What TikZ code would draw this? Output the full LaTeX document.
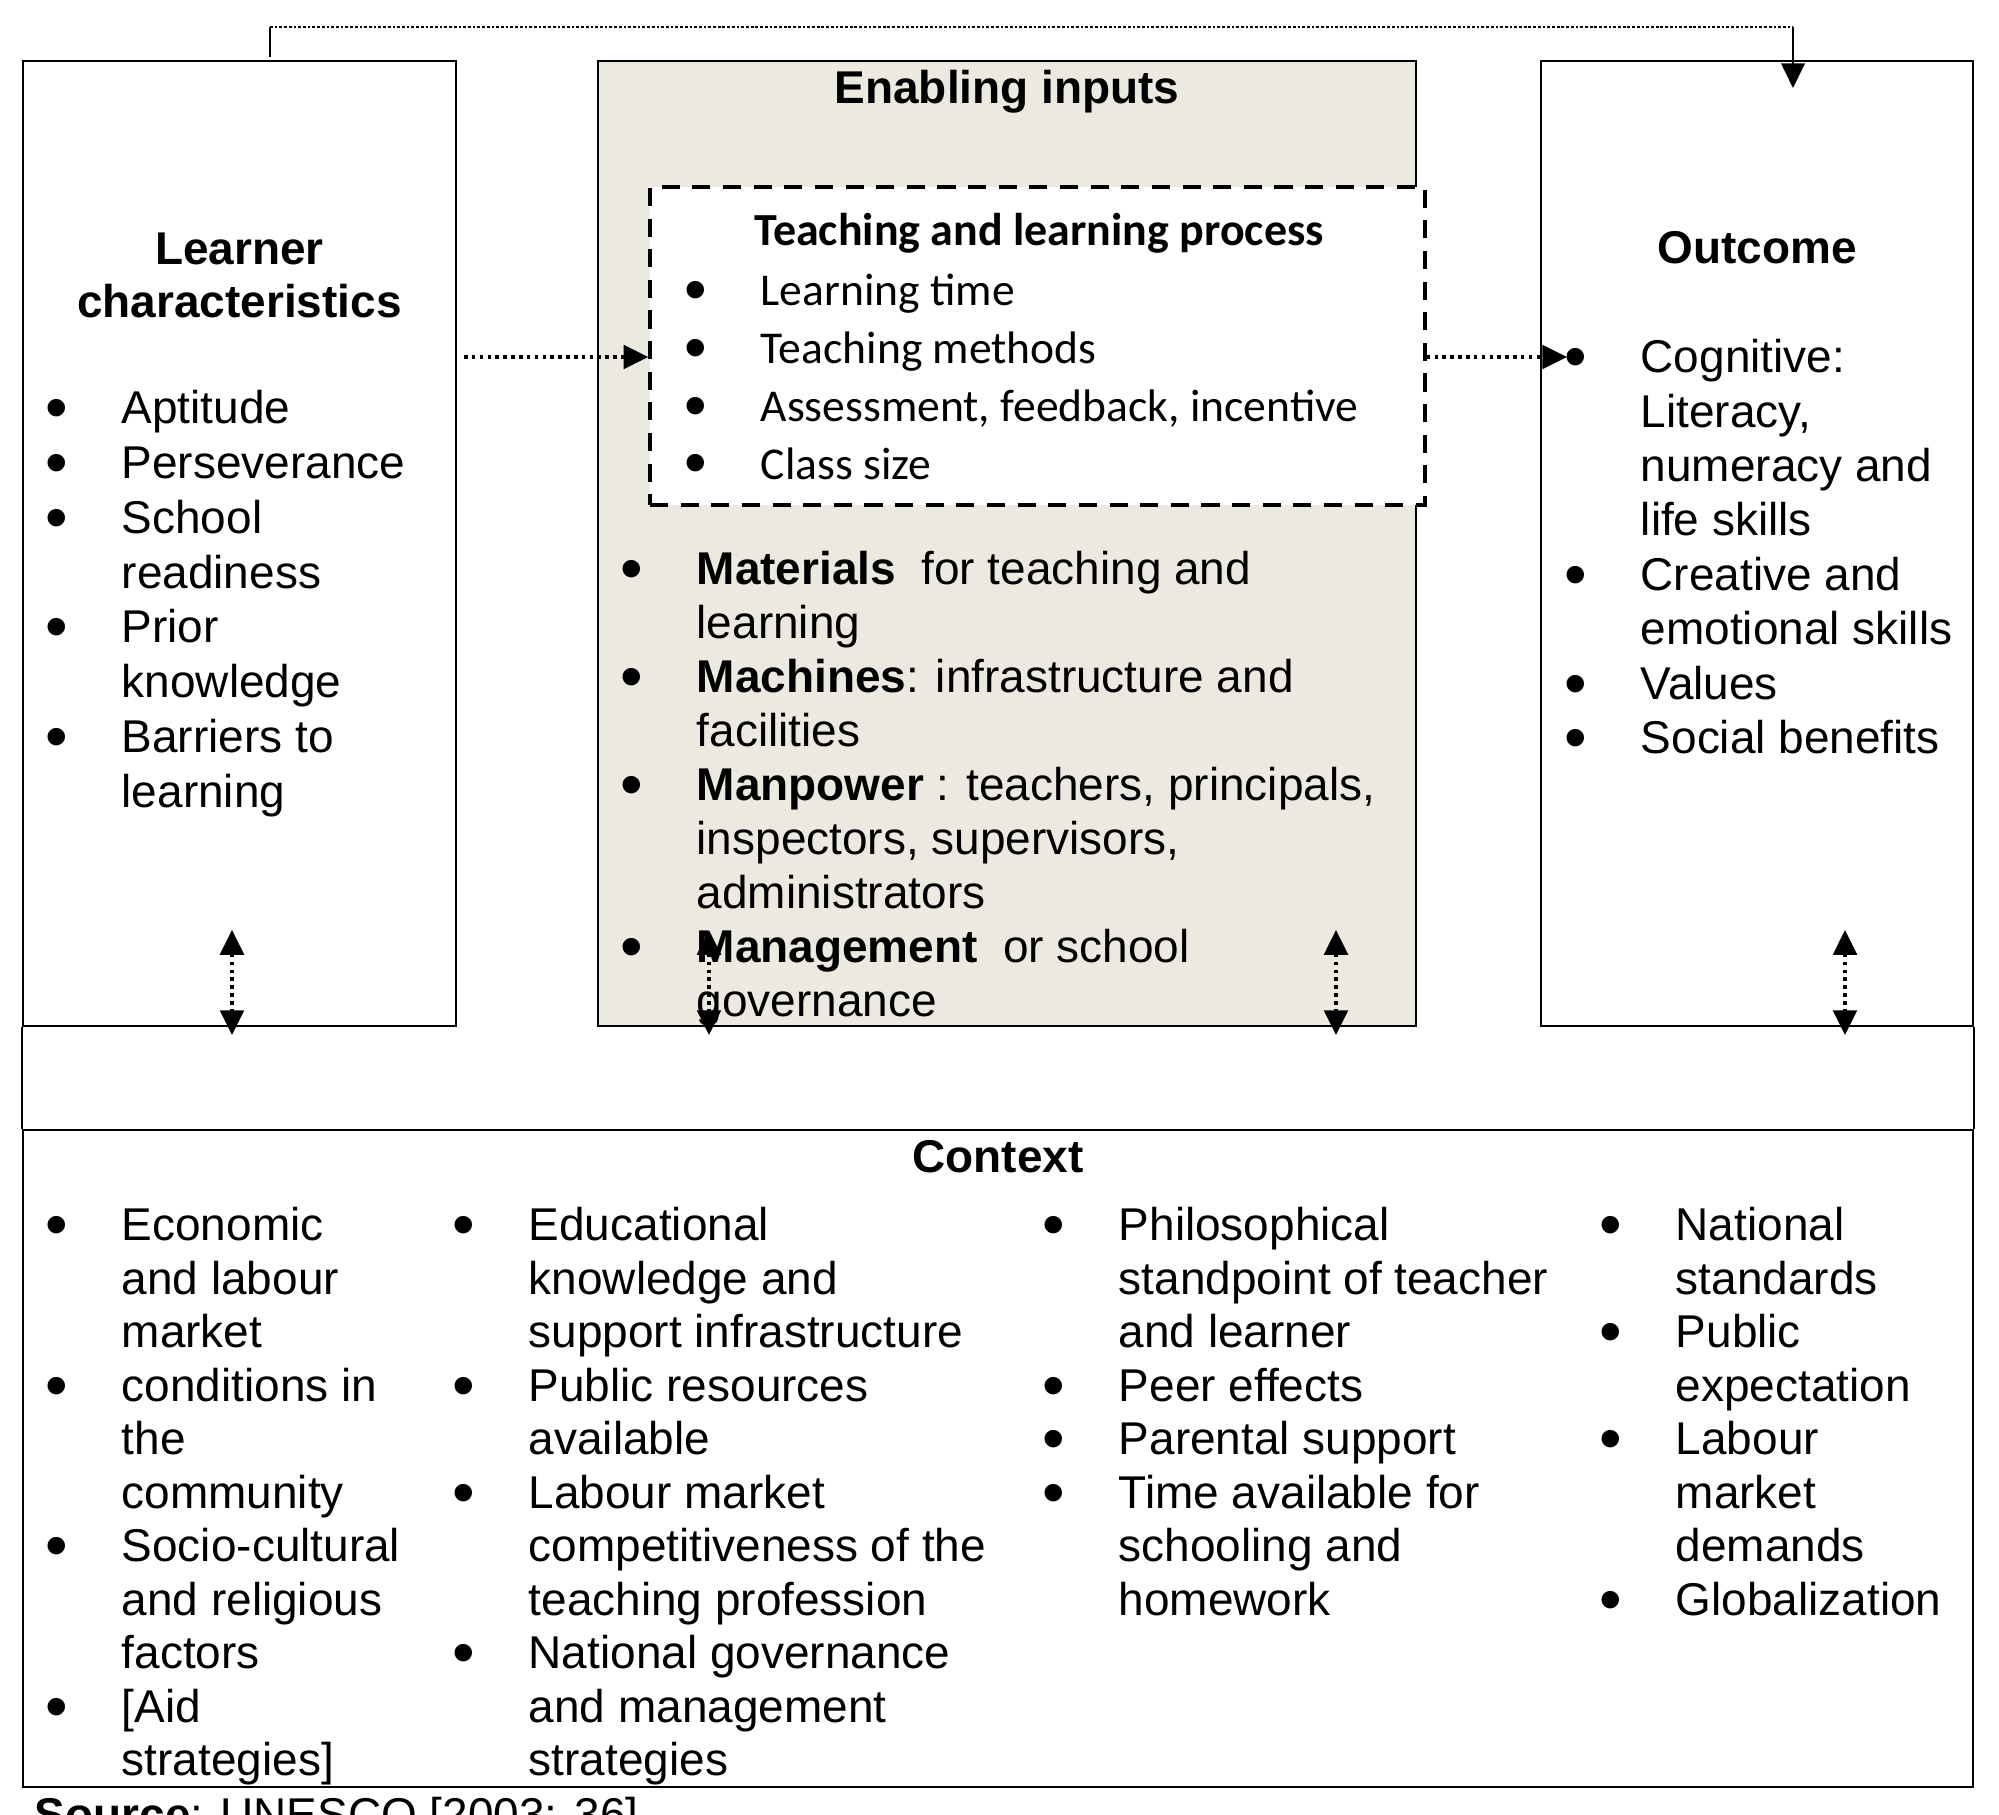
\documentclass[tikz,border=0pt]{standalone}
\usepackage{fontspec}
\setmainfont{Liberation Sans}
\newfontfamily\calfont{Carlito}
\newfontfamily\bulfont{Liberation Sans}
\usetikzlibrary{arrows.meta, calc, positioning}

\definecolor{inputfill}{RGB}{236,233,224}
\newlength{\pxu}
\setlength{\pxu}{0.2546pt}
\newcommand{\itm}{\llap{\makebox[33pt][c]{\raisebox{-1.5pt}{\bulfont\fontsize{16.4}{16}\selectfont\textbullet}}}}
\newcommand{\topln}{\rule{0pt}{10pt}}

\begin{document}
\begin{tikzpicture}[x=0.2546pt, y=-0.2546pt,
  box/.style={draw, line width=0.6pt, inner sep=0pt},
  title/.style={inner sep=0pt, font=\bfseries\fontsize{11.7}{13.3}\selectfont},
  list/.style={anchor=north west, inner sep=0pt, align=left, font=\fontsize{11.7}{13.95}\selectfont},
  ctxlist/.style={list, font=\fontsize{11.7}{13.62}\selectfont},
  tlplist/.style={list, font=\calfont\fontsize{11.6}{14.7}\selectfont},
  dotarrow/.style={line width=0.9pt, dash pattern=on 0.9pt off 1.1pt, -{Triangle[length=6.3pt,width=6pt]}},
  dblarrow/.style={line width=0.9pt, dash pattern=on 0.9pt off 1.1pt, {Triangle[length=6.3pt,width=6pt]}-{Triangle[length=6.3pt,width=6pt]}}]
  \useasboundingbox (0,0) rectangle (1999,1814);
  \fill[white] (0,0) rectangle (1999,1814);

  % Boxes
  \node[box, minimum width=433\pxu, minimum height=965\pxu] (learner) at (239.5,543.5) {};
  \node[box, fill=inputfill, minimum width=818\pxu, minimum height=965\pxu] (inputs) at (1007,543.5) {};
  \node[box, minimum width=432\pxu, minimum height=965\pxu] (outcome) at (1757,543.5) {};
  \node[draw, fill=white, line width=0.85pt, dash pattern=on 4.6pt off 3.2pt, inner sep=0pt,
    minimum width=775\pxu, minimum height=318\pxu] (tlp) at (1037.5,346) {};
  \node[box, minimum width=1950\pxu, minimum height=657\pxu] (context) at (998,1458.5) {};
  \draw[line width=0.6pt] (learner.south west) -- (context.north west);
  \draw[line width=0.6pt] (outcome.south east) -- (context.north east);

  % Learner characteristics
  \node[title, anchor=north, align=center] (lctitle) at (239.5,224.7) {\topln Learner\\characteristics};
  \node[list] (lcitems) at (121,383.7) {\topln\itm Aptitude\\\itm Perseverance\\\itm School\\readiness\\\itm Prior\\knowledge\\\itm Barriers to\\learning};

  % Enabling inputs
  \node[title, anchor=base] (intitle) at (1007,103) {Enabling inputs};
  \node[title, anchor=base, font=\calfont\bfseries\fontsize{11.7}{14.7}\selectfont] (tlptitle) at (1039,245) {Teaching and learning process};
  \node[tlplist] (tlpitems) at (760,265.7) {\topln\itm Learning time\\\itm Teaching methods\\\itm Assessment, feedback, incentive\\\itm Class size};
  \node[list, font=\fontsize{11.7}{13.75}\selectfont] (initems) at (696,544.7) {\topln\itm\textbf{Materials}\ \ for teaching and\\learning\\\itm\textbf{Machines}: infrastructure and\\facilities\\\itm\textbf{Manpower} : teachers, principals,\\inspectors, supervisors,\\administrators\\\itm\textbf{Management}\ \ or school\\governance};

  % Outcome
  \node[title, anchor=base] (outtitle) at (1757,263) {Outcome};
  \node[list, font=\fontsize{11.7}{13.85}\selectfont] (outitems) at (1640,332.7) {\topln\itm Cognitive:\\Literacy,\\numeracy and\\life skills\\\itm Creative and\\emotional skills\\\itm Values\\\itm Social benefits};

  % Context
  \node[title, anchor=base] (ctxtitle) at (998,1172) {Context};
  \node[ctxlist] (ctxa) at (121,1200.7) {\topln\itm Economic\\and labour\\market\\\itm conditions in\\the\\community\\\itm Socio-cultural\\and religious\\factors\\\itm [Aid\\strategies]};
  \node[ctxlist] (ctxb) at (528,1200.7) {\topln\itm Educational\\knowledge and\\support infrastructure\\\itm Public resources\\available\\\itm Labour market\\competitiveness of the\\teaching profession\\\itm National governance\\and management\\strategies};
  \node[ctxlist] (ctxc) at (1118,1200.7) {\topln\itm Philosophical\\standpoint of teacher\\and learner\\\itm Peer effects\\\itm Parental support\\\itm Time available for\\schooling and\\homework};
  \node[ctxlist] (ctxd) at (1675,1200.7) {\topln\itm National\\standards\\\itm Public\\expectation\\\itm Labour\\market\\demands\\\itm Globalization};

  % Source (cut by the page edge)
  \node[anchor=base west, inner sep=0pt, font=\fontsize{11.7}{13.95}\selectfont] (source) at (34,1830) {\textbf{Source}: UNESCO [2003: 36]};

  % Connectors
  \coordinate (lcStart) at (464,357);
  \coordinate (cogBullet) at (1567,357);
  \draw[dotarrow] (lcStart) -- (lcStart -| tlp.west);
  \draw[dotarrow] (cogBullet -| tlp.east) -- (cogBullet);

  \coordinate (fbStart) at (270,57);
  \coordinate (fbEnd) at (1793,88);
  \draw[line width=0.6pt] (fbStart) -- ++(0,-30) coordinate (fbTurn);
  \draw[line width=0.7pt, dash pattern=on 0.7pt off 0.5pt] (fbTurn) -- (fbTurn -| fbEnd) coordinate (fbDown);
  \draw[line width=0.6pt, -{Triangle[length=6.3pt,width=6pt]}] (fbDown) -- (fbEnd);

  \foreach \ax [count=\i] in {232,709,1336,1845} {
    \coordinate (up\i) at (\ax,930);
    \coordinate (dn\i) at (\ax,1035);
    \draw[dblarrow] (up\i) -- (dn\i);
  }
\end{tikzpicture}
\end{document}
